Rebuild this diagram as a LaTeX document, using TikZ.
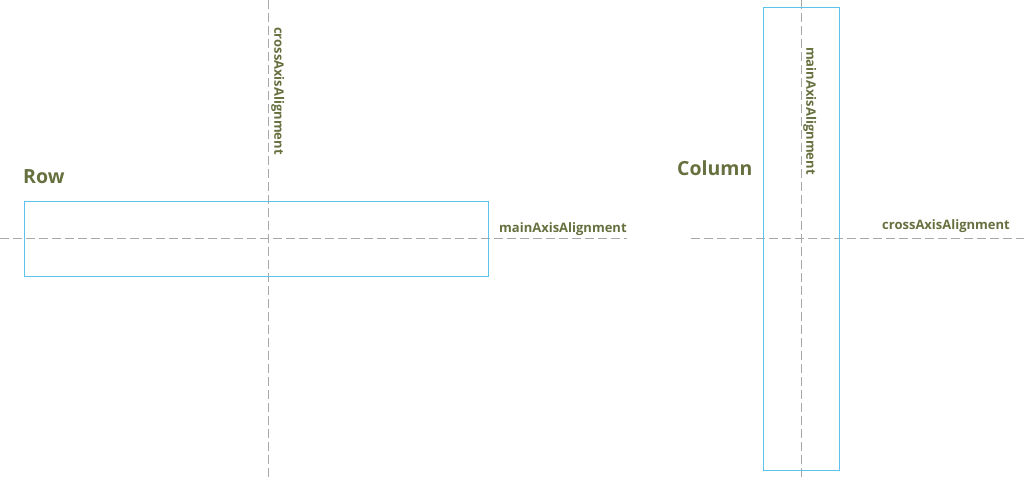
\documentclass[tikz,border=0pt]{standalone}
\usepackage{fontspec}
\setmainfont{Open Sans}
\usepackage{tikz}
\definecolor{olivetext}{HTML}{66703F}
\definecolor{boxblue}{HTML}{5BC4EC}
\definecolor{axisgray}{HTML}{A8A8A8}
\newcommand{\RowBox}{(24,201) rectangle (488,276)}
\newcommand{\ColBox}{(763,7) rectangle (839,470)}
\begin{document}
\begin{tikzpicture}[x=1pt,y=-1pt,
  axis/.style={axisgray,line width=0.8pt,dash pattern=on 9pt off 4pt},
  title/.style={olivetext,font=\fontsize{19.5}{22}\selectfont\bfseries,anchor=base west,inner sep=0pt},
  lbl/.style={olivetext,font=\fontsize{13}{15}\selectfont\bfseries,inner sep=0pt}]
\useasboundingbox (0,0) rectangle (1024,480);
% Row
\draw[axis] (0,238) -- (627,238);
\draw[axis] (268,0) -- (268,480);
\draw[boxblue,line width=0.8pt] \RowBox;
\node[title] (row) at (23,183) {Row};
\node[lbl,anchor=south west] (rowmain) at (499,236) {mainAxisAlignment};
\node[lbl,rotate=-90,anchor=south west] (rowcross) at (271,27) {crossAxisAlignment};
% Column
\draw[axis] (691,238) -- (1024,238);
\draw[axis] (801,0) -- (801,480);
\draw[boxblue,line width=0.8pt] \ColBox;
\node[title] (col) at (677,175) {Column};
\node[lbl,rotate=-90,anchor=south west] (colmain) at (803,47) {mainAxisAlignment};
\node[lbl,anchor=south west] (colcross) at (882,233) {crossAxisAlignment};
\end{tikzpicture}
\end{document}
